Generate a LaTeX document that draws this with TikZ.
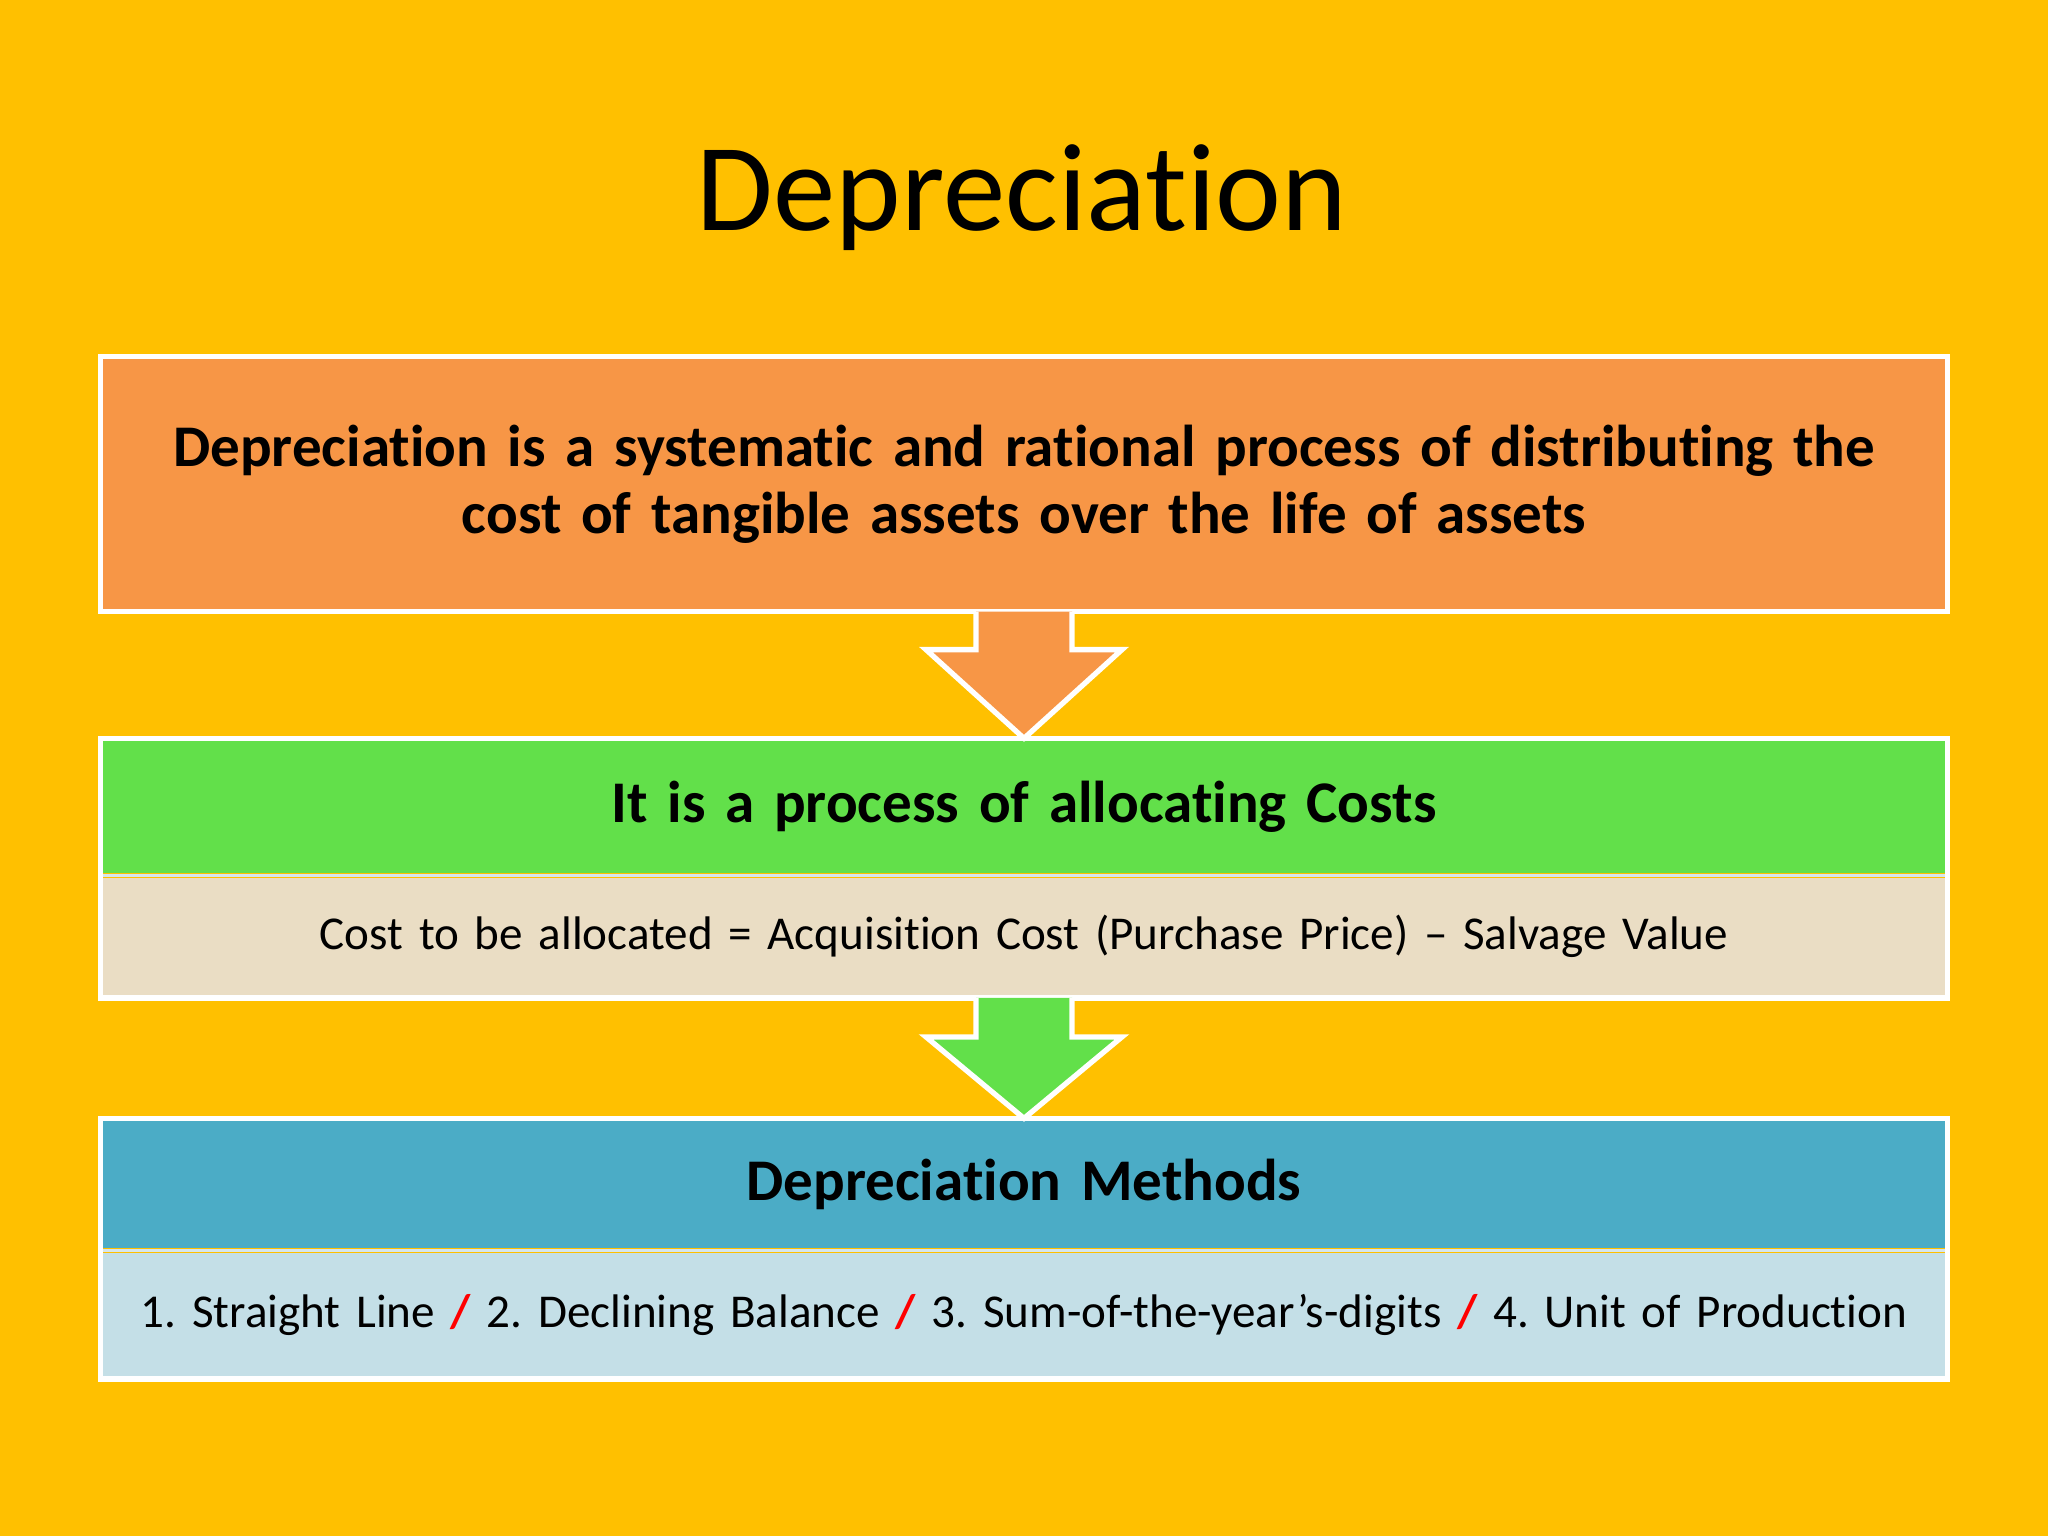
\documentclass[tikz,border=0pt]{standalone}
\usepackage{fontspec}
\setmainfont{Carlito}[Ligatures=NoCommon]
\usetikzlibrary{positioning,calc}
\frenchspacing

\definecolor{slidebg}{HTML}{FFC000}
\definecolor{defcol}{HTML}{F79646}
\definecolor{procol}{HTML}{62E04A}
\definecolor{costcol}{HTML}{EADDC4}
\definecolor{methcol}{HTML}{4BACC6}
\definecolor{listcol}{HTML}{C4DFE7}
\definecolor{seamcol}{HTML}{D6E6EC}
\newcommand{\redsep}{\textcolor{red}{\bfseries /}}

\begin{document}
\begin{tikzpicture}[line width=1.5pt,
	box/.style={minimum width=18.42cm, text width=18.2cm, align=center, inner sep=0pt},
	head/.style={box, font=\fontsize{16.8}{19}\selectfont\bfseries},
	sub/.style={box, font=\fontsize{13.4}{15}\selectfont},
	frame/.style={draw=white, line width=1.5pt},
	seam/.style={draw=seamcol, line width=0.8pt}]
	\fill[slidebg] (0,0) rectangle (20.48,-15.36);
	\node[font=\fontsize{35.5}{40}\selectfont, anchor=base] (title) at (10.22,-2.31) {Depreciation};

	\node[head, fill=defcol, minimum height=2.5cm] (def) at (10.24,-4.84)
		{Depreciation is a systematic and rational process of distributing the\\ cost of tangible assets over the life of assets};
	\draw[frame] (def.north west) rectangle (def.south east);

	\node[head, fill=procol, minimum height=1.32cm] (alloc) at (10.24,-8.07) {It is a process of allocating Costs};
	\node[sub, fill=costcol, minimum height=1.17cm, below=0pt of alloc] (cost)
		{Cost to be allocated = Acquisition Cost (Purchase Price) – Salvage Value};
	\draw[seam] (alloc.south west) -- (alloc.south east);
	\draw[frame] (alloc.north west) rectangle (cost.south east);

	\node[head, fill=methcol, minimum height=1.27cm] (meth) at (10.24,-11.845) {Depreciation Methods};
	\node[sub, fill=listcol, minimum height=1.23cm, below=0pt of meth] (list)
		{1. Straight Line \redsep{} 2. Declining Balance \redsep{} 3. Sum-of-the-year’s-digits \redsep{} 4. Unit of Production};
	\draw[seam] (meth.south west) -- (meth.south east);
	\draw[frame] (meth.north west) rectangle (list.south east);

	\draw[frame, fill=defcol] ($(def.south)+(-0.48,0)$) -- ++(0,-0.38) -- ++(-0.5,0) -- (alloc.north)
		-- ($(def.south)+(0.98,-0.38)$) -- ++(-0.5,0) -- ($(def.south)+(0.48,0)$);
	\draw[frame, fill=procol] ($(cost.south)+(-0.48,0)$) -- ++(0,-0.39) -- ++(-0.5,0) -- (meth.north)
		-- ($(cost.south)+(0.98,-0.39)$) -- ++(-0.5,0) -- ($(cost.south)+(0.48,0)$);
\end{tikzpicture}
\end{document}
